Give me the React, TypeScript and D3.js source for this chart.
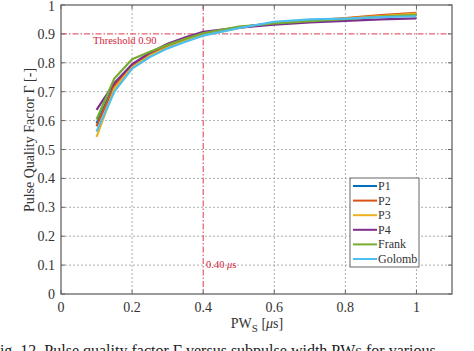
import React from "react";
import * as d3 from "d3";

const pw = [0.1, 0.15, 0.2, 0.25, 0.3, 0.35, 0.4, 0.5, 0.6, 0.7, 0.8, 0.9, 1.0];
const p1 = [0.59, 0.725, 0.79, 0.828, 0.855, 0.878, 0.897, 0.922, 0.938, 0.945, 0.952, 0.96, 0.966];
const p2 = [0.58, 0.72, 0.792, 0.83, 0.858, 0.88, 0.899, 0.923, 0.937, 0.946, 0.955, 0.965, 0.973];
const p3 = [0.544, 0.71, 0.785, 0.825, 0.853, 0.876, 0.896, 0.921, 0.937, 0.946, 0.953, 0.962, 0.97];
const p4 = [0.637, 0.73, 0.795, 0.835, 0.866, 0.888, 0.907, 0.922, 0.932, 0.94, 0.945, 0.95, 0.954];
const frank = [0.604, 0.746, 0.812, 0.838, 0.862, 0.883, 0.902, 0.925, 0.936, 0.944, 0.951, 0.96, 0.966];
const golomb = [0.562, 0.7, 0.78, 0.82, 0.85, 0.873, 0.894, 0.92, 0.942, 0.95, 0.953, 0.958, 0.961];

const seriesNames = ["P1", "P2", "P3", "P4", "Frank", "Golomb"];
const seriesValues = [p1, p2, p3, p4, frank, golomb];
const seriesColors = ["#0072BD", "#D95319", "#EDB120", "#7E2F8E", "#77AC30", "#4DBEEE"];

const xTicks = [0, 0.2, 0.4, 0.6, 0.8, 1];
const yTicks = [0, 0.1, 0.2, 0.3, 0.4, 0.5, 0.6, 0.7, 0.8, 0.9, 1];
const threshold = 0.9;
const pwThreshold = 0.4;

export default function App() {
  const W = 474, H = 351;
  const L = 61, R = 452, T = 5, B = 294;
  const x = d3.scaleLinear().domain([0, 1.1]).range([L, R]);
  const y = d3.scaleLinear().domain([0, 1]).range([B, T]);
  const line = d3.line<[number, number]>().x(d => x(d[0])).y(d => y(d[1]));
  const font = "'Liberation Serif', 'Times New Roman', serif";
  const axisColor = "#666";
  const gridDash = "2,2";
  const redC = "#d6243a";

  return (
    <svg width={W} height={H} style={{ position: "absolute", left: 0, top: 0, background: "#fff" }} fontFamily={font}>
      <rect x={0} y={0} width={W} height={H} fill="#fff" />
      {/* grid */}
      {xTicks.filter(t => t > 0 && t !== pwThreshold).map(t => (
        <line key={"gx" + t} x1={x(t)} x2={x(t)} y1={T} y2={B} stroke="#999" strokeWidth={0.8} strokeDasharray={gridDash} />
      ))}
      {yTicks.filter(t => t > 0 && t < 1 && t !== threshold).map(t => (
        <line key={"gy" + t} x1={L} x2={R} y1={y(t)} y2={y(t)} stroke="#999" strokeWidth={0.8} strokeDasharray={gridDash} />
      ))}
      {/* threshold lines */}
      <line x1={L} x2={R} y1={y(threshold)} y2={y(threshold)} stroke={redC} strokeWidth={0.9} strokeDasharray="6,2,1.5,2" />
      <line x1={x(pwThreshold)} x2={x(pwThreshold)} y1={T} y2={B} stroke={redC} strokeWidth={0.9} strokeDasharray="6,2,1.5,2" />
      <text x={93} y={44} fontSize={10.5} fill={redC}>Threshold 0.90</text>
      <text x={206} y={268} fontSize={10.5} fill={redC}>0.40 <tspan fontStyle="italic">μ</tspan>s</text>
      {/* frame */}
      <rect x={L} y={T} width={R - L} height={B - T} fill="none" stroke={axisColor} strokeWidth={1.3} />
      {/* ticks */}
      {xTicks.map(t => (
        <g key={"tx" + t}>
          <line x1={x(t)} x2={x(t)} y1={B} y2={B - 4} stroke={axisColor} strokeWidth={1} />
          <line x1={x(t)} x2={x(t)} y1={T} y2={T + 4} stroke={axisColor} strokeWidth={1} />
          <text x={x(t)} y={312} fontSize={14} fill="#333" textAnchor="middle">{String(t)}</text>
        </g>
      ))}
      {yTicks.map(t => (
        <g key={"ty" + t}>
          <line x1={L} x2={L + 4} y1={y(t)} y2={y(t)} stroke={axisColor} strokeWidth={1} />
          <line x1={R} x2={R - 4} y1={y(t)} y2={y(t)} stroke={axisColor} strokeWidth={1} />
          <text x={55} y={Math.max(y(t) + 5, 11)} fontSize={14} fill="#333" textAnchor="end">{String(t)}</text>
        </g>
      ))}
      {/* series */}
      {seriesValues.map((vals, i) => (
        <path key={seriesNames[i]} d={line(pw.map((p, j) => [p, vals[j]] as [number, number])) || ""}
          fill="none" stroke={seriesColors[i]} strokeWidth={2.2} strokeLinejoin="round" />
      ))}
      {/* legend */}
      <rect x={350} y={178} width={69} height={89} fill="#fff" stroke={axisColor} strokeWidth={1} />
      {seriesNames.map((n, i) => (
        <g key={"lg" + n}>
          <line x1={353} x2={377} y1={186 + i * 14.6} y2={186 + i * 14.6} stroke={seriesColors[i]} strokeWidth={2} />
          <text x={378} y={190 + i * 14.6} fontSize={12} fill="#333">{n}</text>
        </g>
      ))}
      {/* axis labels */}
      <text transform="translate(34,140) rotate(-90)" fontSize={14} fill="#333" textAnchor="middle">Pulse Quality Factor Γ [-]</text>
      <text x={257} y={328} fontSize={14} fill="#333" textAnchor="middle">
        PW<tspan fontSize={11} dy={4}>S</tspan><tspan dy={-4}> [</tspan><tspan fontStyle="italic">μ</tspan>s]
      </text>
      {/* caption (clipped, as in the reference) */}
      <text x={-9} y={356} fontSize={16} fill="#222">Fig. 12. Pulse quality factor Γ versus subpulse width PW<tspan fontSize={12}>S</tspan> for various</text>
    </svg>
  );
}
